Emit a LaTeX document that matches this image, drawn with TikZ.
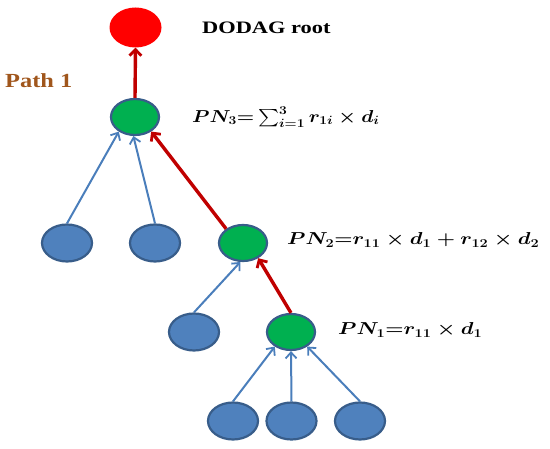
\documentclass[tikz,border=0pt]{standalone}
\usepackage{fontspec}
\setmainfont{Liberation Serif}
\usepackage{amsmath,bm}
\usetikzlibrary{arrows.meta,shapes.geometric}
\definecolor{rootred}{HTML}{FF0000}
\definecolor{pathred}{HTML}{C00000}
\definecolor{nodegreen}{HTML}{00B050}
\definecolor{nodeblue}{HTML}{4F81BD}
\definecolor{bordblue}{HTML}{385D8A}
\definecolor{lineblue}{HTML}{4A7EBB}
\definecolor{pathbrown}{HTML}{A0561C}
\begin{document}
\begin{tikzpicture}[x=1pt,y=-1pt,
  leaf/.style={ellipse,draw=bordblue,line width=2.2pt,fill=nodeblue,minimum width=50pt,minimum height=37pt,inner sep=0pt},
  pnode/.style={ellipse,draw=bordblue,line width=2.2pt,fill=nodegreen,minimum width=48pt,minimum height=36pt,inner sep=0pt},
  rootnode/.style={ellipse,fill=rootred,minimum width=52pt,minimum height=40pt,inner sep=0pt},
  bluearrow/.style={draw=lineblue,line width=2pt,-{Straight Barb[length=6pt,width=11pt,line width=1.8pt]}},
  redarrow/.style={draw=pathred,line width=3.4pt,-{Straight Barb[length=6pt,width=12pt,line width=2.8pt]}},
  lbl/.style={anchor=west,inner sep=0pt},
  frm/.style={anchor=west,inner sep=0pt,font=\fontsize{17}{19}\selectfont\boldmath}
]
\useasboundingbox (0,0) rectangle (550,449);
\node[rootnode] (root) at (135.5,27.5) {};
\node[pnode] (pn3) at (135,117) {};
\node[leaf] (l1) at (67,243) {};
\node[leaf] (l2) at (155,243) {};
\node[pnode] (pn2) at (243,243) {};
\node[leaf] (l3) at (194,332) {};
\node[pnode] (pn1) at (291,332) {};
\node[leaf] (b1) at (233,421) {};
\node[leaf] (b2) at (291.5,421) {};
\node[leaf] (b3) at (360,421) {};

\draw[redarrow] (pn3.north) -- (root.south);
\draw[redarrow] (pn2.140) -- (pn3.318);
\draw[redarrow] (pn1.north) -- (pn2.315);
\draw[bluearrow] (l1.north) -- (pn3.222);
\draw[bluearrow] (l2.north) -- (pn3.265);
\draw[bluearrow] (l3.north) -- (pn2.262);
\draw[bluearrow] (b1.north) -- (pn1.222);
\draw[bluearrow] (b2.north) -- (pn1.south);
\draw[bluearrow] (b3.north) -- (pn1.318);

\node[lbl,font=\fontsize{17.5}{19}\selectfont\bfseries] (t1) at (202,28) {\scalebox{1.28}[1]{DODAG root}};
\node[lbl,font=\fontsize{20}{22}\selectfont\bfseries,text=pathbrown] (t2) at (5,81) {\scalebox{1.22}[1]{Path 1}};
\node[frm] (f3) at (192,117) {\scalebox{1.15}[1]{$PN_3{=}\sum_{i=1}^{3} r_{1i}\times d_i$}};
\node[frm] (f2) at (287,240) {\scalebox{1.21}[1]{$PN_2{=}r_{11}\times d_1+r_{12}\times d_2$}};
\node[frm] (f1) at (338,330) {\scalebox{1.21}[1]{$PN_1{=}r_{11}\times d_1$}};
\end{tikzpicture}
\end{document}
